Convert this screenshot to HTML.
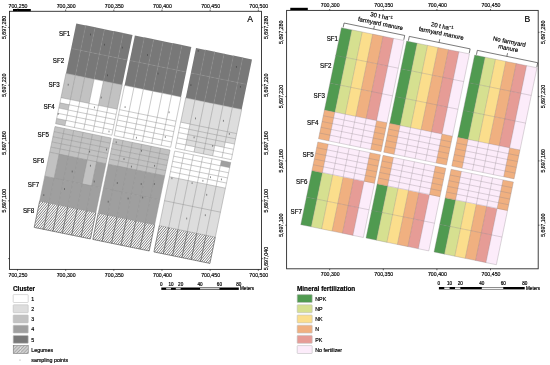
<!DOCTYPE html>
<html lang="en"><head><meta charset="utf-8"><title>Cluster and mineral fertilization maps</title>
<style>
html,body{margin:0;padding:0;background:#fff;}
body{width:550px;height:365px;overflow:hidden;}
svg{display:block;filter:blur(0.35px);font-family:"Liberation Sans",sans-serif;fill:#000;}
text{stroke:#000;stroke-width:0.18px;}
.ax{font-size:6.1px;}
.sf{font-size:7.2px;}
.lg{font-size:5.3px;}
.sb{font-size:4.6px;}
.hd{font-size:6.4px;font-weight:bold;}
.br{font-size:6px;}
</style></head><body>
<svg width="550" height="365" viewBox="0 0 550 365">
<defs>
<pattern id="hatchL" width="10" height="10" patternUnits="userSpaceOnUse">
<rect width="10" height="10" fill="#fff"/><path d="M1.43 0L0 1.43M2.86 0L0 2.86M4.29 0L0 4.29M5.71 0L0 5.71M7.14 0L0 7.14M8.57 0L0 8.57M10.00 0L0 10.00M11.43 0L0 11.43M12.86 0L0 12.86M14.29 0L0 14.29M15.71 0L0 15.71M17.14 0L0 17.14M18.57 0L0 18.57M20.00 0L0 20.00" stroke="#4a4a4a" stroke-width="0.5" fill="none"/>
</pattern>
</defs>
<rect width="550" height="365" fill="#fff"/>
<!-- Panel A -->
<g transform="matrix(0.9797 0.2007 -0.2021 0.9794 76.3 23.4)">
<rect x="0" y="0" width="9.87" height="25.8" fill="#787878"/>
<rect x="9.57" y="0" width="9.87" height="25.8" fill="#787878"/>
<rect x="19.13" y="0" width="9.87" height="25.8" fill="#787878"/>
<rect x="28.7" y="0" width="9.87" height="25.8" fill="#787878"/>
<rect x="38.27" y="0" width="9.87" height="25.8" fill="#787878"/>
<rect x="47.83" y="0" width="9.57" height="25.8" fill="#787878"/>
<rect x="0" y="25.5" width="9.87" height="25.8" fill="#787878"/>
<rect x="9.57" y="25.5" width="9.87" height="25.8" fill="#787878"/>
<rect x="19.13" y="25.5" width="9.87" height="25.8" fill="#787878"/>
<rect x="28.7" y="25.5" width="9.87" height="25.8" fill="#787878"/>
<rect x="38.27" y="25.5" width="9.87" height="25.8" fill="#787878"/>
<rect x="47.83" y="25.5" width="9.57" height="25.8" fill="#787878"/>
<rect x="59.8" y="0" width="9.9" height="25.8" fill="#787878"/>
<rect x="69.4" y="0" width="9.9" height="25.8" fill="#787878"/>
<rect x="79" y="0" width="9.9" height="25.8" fill="#787878"/>
<rect x="88.6" y="0" width="9.9" height="25.8" fill="#787878"/>
<rect x="98.2" y="0" width="9.9" height="25.8" fill="#787878"/>
<rect x="107.8" y="0" width="9.6" height="25.8" fill="#787878"/>
<rect x="59.8" y="25.5" width="9.9" height="25.8" fill="#787878"/>
<rect x="69.4" y="25.5" width="9.9" height="25.8" fill="#787878"/>
<rect x="79" y="25.5" width="9.9" height="25.8" fill="#787878"/>
<rect x="88.6" y="25.5" width="9.9" height="25.8" fill="#787878"/>
<rect x="98.2" y="25.5" width="9.9" height="25.8" fill="#787878"/>
<rect x="107.8" y="25.5" width="9.6" height="25.8" fill="#787878"/>
<rect x="122.2" y="0" width="9.83" height="25.8" fill="#787878"/>
<rect x="131.72" y="0" width="9.83" height="25.8" fill="#787878"/>
<rect x="141.25" y="0" width="9.83" height="25.8" fill="#787878"/>
<rect x="150.78" y="0" width="9.83" height="25.8" fill="#787878"/>
<rect x="160.3" y="0" width="9.82" height="25.8" fill="#787878"/>
<rect x="169.82" y="0" width="9.53" height="25.8" fill="#787878"/>
<rect x="122.2" y="25.5" width="9.83" height="25.8" fill="#787878"/>
<rect x="131.72" y="25.5" width="9.83" height="25.8" fill="#787878"/>
<rect x="141.25" y="25.5" width="9.83" height="25.8" fill="#787878"/>
<rect x="150.78" y="25.5" width="9.83" height="25.8" fill="#787878"/>
<rect x="160.3" y="25.5" width="9.82" height="25.8" fill="#787878"/>
<rect x="169.82" y="25.5" width="9.53" height="25.8" fill="#787878"/>
<rect x="0" y="51" width="9.87" height="25.1" fill="#c2c2c2"/>
<rect x="9.57" y="51" width="9.87" height="25.1" fill="#c2c2c2"/>
<rect x="19.13" y="51" width="9.87" height="25.1" fill="#c2c2c2"/>
<rect x="28.7" y="51" width="9.87" height="25.1" fill="#ffffff"/>
<rect x="38.27" y="51" width="9.87" height="25.1" fill="#c2c2c2"/>
<rect x="47.83" y="51" width="9.57" height="25.1" fill="#c2c2c2"/>
<rect x="59.8" y="51" width="9.9" height="25.1" fill="#ffffff"/>
<rect x="69.4" y="51" width="9.9" height="25.1" fill="#ffffff"/>
<rect x="79" y="51" width="9.9" height="25.1" fill="#ffffff"/>
<rect x="88.6" y="51" width="9.9" height="25.1" fill="#ffffff"/>
<rect x="98.2" y="51" width="9.9" height="25.1" fill="#ffffff"/>
<rect x="107.8" y="51" width="9.6" height="25.1" fill="#ffffff"/>
<rect x="122.2" y="51" width="9.83" height="25.1" fill="#dddddd"/>
<rect x="131.72" y="51" width="9.83" height="25.1" fill="#dddddd"/>
<rect x="141.25" y="51" width="9.83" height="25.1" fill="#dddddd"/>
<rect x="150.78" y="51" width="9.83" height="25.1" fill="#dddddd"/>
<rect x="160.3" y="51" width="9.82" height="25.1" fill="#dddddd"/>
<rect x="169.82" y="51" width="9.53" height="25.1" fill="#dddddd"/>
<rect x="0" y="75.8" width="9.87" height="5.62" fill="#ffffff"/>
<rect x="9.57" y="75.8" width="9.87" height="5.62" fill="#ffffff"/>
<rect x="19.13" y="75.8" width="9.87" height="5.62" fill="#ffffff"/>
<rect x="28.7" y="75.8" width="9.87" height="5.62" fill="#ffffff"/>
<rect x="38.27" y="75.8" width="9.87" height="5.62" fill="#ffffff"/>
<rect x="47.83" y="75.8" width="9.57" height="5.62" fill="#ffffff"/>
<rect x="0" y="81.12" width="9.87" height="5.62" fill="#c2c2c2"/>
<rect x="9.57" y="81.12" width="9.87" height="5.62" fill="#ffffff"/>
<rect x="19.13" y="81.12" width="9.87" height="5.62" fill="#ffffff"/>
<rect x="28.7" y="81.12" width="9.87" height="5.62" fill="#ffffff"/>
<rect x="38.27" y="81.12" width="9.87" height="5.62" fill="#ffffff"/>
<rect x="47.83" y="81.12" width="9.57" height="5.62" fill="#ffffff"/>
<rect x="0" y="86.44" width="9.87" height="5.62" fill="#ffffff"/>
<rect x="9.57" y="86.44" width="9.87" height="5.62" fill="#ffffff"/>
<rect x="19.13" y="86.44" width="9.87" height="5.62" fill="#ffffff"/>
<rect x="28.7" y="86.44" width="9.87" height="5.62" fill="#ffffff"/>
<rect x="38.27" y="86.44" width="9.87" height="5.62" fill="#ffffff"/>
<rect x="47.83" y="86.44" width="9.57" height="5.62" fill="#ffffff"/>
<rect x="0" y="91.76" width="9.87" height="5.62" fill="#ffffff"/>
<rect x="9.57" y="91.76" width="9.87" height="5.62" fill="#ffffff"/>
<rect x="19.13" y="91.76" width="9.87" height="5.62" fill="#ffffff"/>
<rect x="28.7" y="91.76" width="9.87" height="5.62" fill="#ffffff"/>
<rect x="38.27" y="91.76" width="9.87" height="5.62" fill="#ffffff"/>
<rect x="47.83" y="91.76" width="9.57" height="5.62" fill="#ffffff"/>
<rect x="0" y="97.08" width="9.87" height="5.32" fill="#c2c2c2"/>
<rect x="9.57" y="97.08" width="9.87" height="5.32" fill="#ffffff"/>
<rect x="19.13" y="97.08" width="9.87" height="5.32" fill="#ffffff"/>
<rect x="28.7" y="97.08" width="9.87" height="5.32" fill="#ffffff"/>
<rect x="38.27" y="97.08" width="9.87" height="5.32" fill="#ffffff"/>
<rect x="47.83" y="97.08" width="9.57" height="5.32" fill="#ffffff"/>
<rect x="59.8" y="75.8" width="9.9" height="5.62" fill="#ffffff"/>
<rect x="69.4" y="75.8" width="9.9" height="5.62" fill="#ffffff"/>
<rect x="79" y="75.8" width="9.9" height="5.62" fill="#ffffff"/>
<rect x="88.6" y="75.8" width="9.9" height="5.62" fill="#ffffff"/>
<rect x="98.2" y="75.8" width="9.9" height="5.62" fill="#ffffff"/>
<rect x="107.8" y="75.8" width="9.6" height="5.62" fill="#ffffff"/>
<rect x="59.8" y="81.12" width="9.9" height="5.62" fill="#ffffff"/>
<rect x="69.4" y="81.12" width="9.9" height="5.62" fill="#ffffff"/>
<rect x="79" y="81.12" width="9.9" height="5.62" fill="#ffffff"/>
<rect x="88.6" y="81.12" width="9.9" height="5.62" fill="#ffffff"/>
<rect x="98.2" y="81.12" width="9.9" height="5.62" fill="#ffffff"/>
<rect x="107.8" y="81.12" width="9.6" height="5.62" fill="#ffffff"/>
<rect x="59.8" y="86.44" width="9.9" height="5.62" fill="#ffffff"/>
<rect x="69.4" y="86.44" width="9.9" height="5.62" fill="#ffffff"/>
<rect x="79" y="86.44" width="9.9" height="5.62" fill="#ffffff"/>
<rect x="88.6" y="86.44" width="9.9" height="5.62" fill="#ffffff"/>
<rect x="98.2" y="86.44" width="9.9" height="5.62" fill="#ffffff"/>
<rect x="107.8" y="86.44" width="9.6" height="5.62" fill="#ffffff"/>
<rect x="59.8" y="91.76" width="9.9" height="5.62" fill="#ffffff"/>
<rect x="69.4" y="91.76" width="9.9" height="5.62" fill="#ffffff"/>
<rect x="79" y="91.76" width="9.9" height="5.62" fill="#ffffff"/>
<rect x="88.6" y="91.76" width="9.9" height="5.62" fill="#ffffff"/>
<rect x="98.2" y="91.76" width="9.9" height="5.62" fill="#ffffff"/>
<rect x="107.8" y="91.76" width="9.6" height="5.62" fill="#ffffff"/>
<rect x="59.8" y="97.08" width="9.9" height="5.32" fill="#ffffff"/>
<rect x="69.4" y="97.08" width="9.9" height="5.32" fill="#ffffff"/>
<rect x="79" y="97.08" width="9.9" height="5.32" fill="#ffffff"/>
<rect x="88.6" y="97.08" width="9.9" height="5.32" fill="#ffffff"/>
<rect x="98.2" y="97.08" width="9.9" height="5.32" fill="#ffffff"/>
<rect x="107.8" y="97.08" width="9.6" height="5.32" fill="#ffffff"/>
<rect x="122.2" y="75.8" width="9.83" height="5.62" fill="#ffffff"/>
<rect x="131.72" y="75.8" width="9.83" height="5.62" fill="#dddddd"/>
<rect x="141.25" y="75.8" width="9.83" height="5.62" fill="#dddddd"/>
<rect x="150.78" y="75.8" width="9.83" height="5.62" fill="#dddddd"/>
<rect x="160.3" y="75.8" width="9.82" height="5.62" fill="#dddddd"/>
<rect x="169.82" y="75.8" width="9.53" height="5.62" fill="#dddddd"/>
<rect x="122.2" y="81.12" width="9.83" height="5.62" fill="#ffffff"/>
<rect x="131.72" y="81.12" width="9.83" height="5.62" fill="#dddddd"/>
<rect x="141.25" y="81.12" width="9.83" height="5.62" fill="#dddddd"/>
<rect x="150.78" y="81.12" width="9.83" height="5.62" fill="#dddddd"/>
<rect x="160.3" y="81.12" width="9.82" height="5.62" fill="#dddddd"/>
<rect x="169.82" y="81.12" width="9.53" height="5.62" fill="#dddddd"/>
<rect x="122.2" y="86.44" width="9.83" height="5.62" fill="#ffffff"/>
<rect x="131.72" y="86.44" width="9.83" height="5.62" fill="#dddddd"/>
<rect x="141.25" y="86.44" width="9.83" height="5.62" fill="#dddddd"/>
<rect x="150.78" y="86.44" width="9.83" height="5.62" fill="#dddddd"/>
<rect x="160.3" y="86.44" width="9.82" height="5.62" fill="#dddddd"/>
<rect x="169.82" y="86.44" width="9.53" height="5.62" fill="#ffffff"/>
<rect x="122.2" y="91.76" width="9.83" height="5.62" fill="#ffffff"/>
<rect x="131.72" y="91.76" width="9.83" height="5.62" fill="#dddddd"/>
<rect x="141.25" y="91.76" width="9.83" height="5.62" fill="#dddddd"/>
<rect x="150.78" y="91.76" width="9.83" height="5.62" fill="#dddddd"/>
<rect x="160.3" y="91.76" width="9.82" height="5.62" fill="#ffffff"/>
<rect x="169.82" y="91.76" width="9.53" height="5.62" fill="#ffffff"/>
<rect x="122.2" y="97.08" width="9.83" height="5.32" fill="#ffffff"/>
<rect x="131.72" y="97.08" width="9.83" height="5.32" fill="#ffffff"/>
<rect x="141.25" y="97.08" width="9.83" height="5.32" fill="#dddddd"/>
<rect x="150.78" y="97.08" width="9.83" height="5.32" fill="#dddddd"/>
<rect x="160.3" y="97.08" width="9.82" height="5.32" fill="#ffffff"/>
<rect x="169.82" y="97.08" width="9.53" height="5.32" fill="#ffffff"/>
<rect x="0" y="105.3" width="9.87" height="5.54" fill="#c2c2c2"/>
<rect x="9.57" y="105.3" width="9.87" height="5.54" fill="#c2c2c2"/>
<rect x="19.13" y="105.3" width="9.87" height="5.54" fill="#c2c2c2"/>
<rect x="28.7" y="105.3" width="9.87" height="5.54" fill="#c2c2c2"/>
<rect x="38.27" y="105.3" width="9.87" height="5.54" fill="#c2c2c2"/>
<rect x="47.83" y="105.3" width="9.57" height="5.54" fill="#c2c2c2"/>
<rect x="0" y="110.54" width="9.87" height="5.54" fill="#c2c2c2"/>
<rect x="9.57" y="110.54" width="9.87" height="5.54" fill="#c2c2c2"/>
<rect x="19.13" y="110.54" width="9.87" height="5.54" fill="#c2c2c2"/>
<rect x="28.7" y="110.54" width="9.87" height="5.54" fill="#c2c2c2"/>
<rect x="38.27" y="110.54" width="9.87" height="5.54" fill="#c2c2c2"/>
<rect x="47.83" y="110.54" width="9.57" height="5.54" fill="#c2c2c2"/>
<rect x="0" y="115.78" width="9.87" height="5.54" fill="#c2c2c2"/>
<rect x="9.57" y="115.78" width="9.87" height="5.54" fill="#c2c2c2"/>
<rect x="19.13" y="115.78" width="9.87" height="5.54" fill="#c2c2c2"/>
<rect x="28.7" y="115.78" width="9.87" height="5.54" fill="#c2c2c2"/>
<rect x="38.27" y="115.78" width="9.87" height="5.54" fill="#c2c2c2"/>
<rect x="47.83" y="115.78" width="9.57" height="5.54" fill="#c2c2c2"/>
<rect x="0" y="121.02" width="9.87" height="5.54" fill="#c2c2c2"/>
<rect x="9.57" y="121.02" width="9.87" height="5.54" fill="#c2c2c2"/>
<rect x="19.13" y="121.02" width="9.87" height="5.54" fill="#c2c2c2"/>
<rect x="28.7" y="121.02" width="9.87" height="5.54" fill="#c2c2c2"/>
<rect x="38.27" y="121.02" width="9.87" height="5.54" fill="#c2c2c2"/>
<rect x="47.83" y="121.02" width="9.57" height="5.54" fill="#c2c2c2"/>
<rect x="0" y="126.26" width="9.87" height="5.54" fill="#c2c2c2"/>
<rect x="9.57" y="126.26" width="9.87" height="5.54" fill="#c2c2c2"/>
<rect x="19.13" y="126.26" width="9.87" height="5.54" fill="#c2c2c2"/>
<rect x="28.7" y="126.26" width="9.87" height="5.54" fill="#c2c2c2"/>
<rect x="38.27" y="126.26" width="9.87" height="5.54" fill="#c2c2c2"/>
<rect x="47.83" y="126.26" width="9.57" height="5.54" fill="#c2c2c2"/>
<rect x="59.8" y="105.3" width="9.9" height="5.54" fill="#c2c2c2"/>
<rect x="69.4" y="105.3" width="9.9" height="5.54" fill="#c2c2c2"/>
<rect x="79" y="105.3" width="9.9" height="5.54" fill="#c2c2c2"/>
<rect x="88.6" y="105.3" width="9.9" height="5.54" fill="#c2c2c2"/>
<rect x="98.2" y="105.3" width="9.9" height="5.54" fill="#c2c2c2"/>
<rect x="107.8" y="105.3" width="9.6" height="5.54" fill="#c2c2c2"/>
<rect x="59.8" y="110.54" width="9.9" height="5.54" fill="#c2c2c2"/>
<rect x="69.4" y="110.54" width="9.9" height="5.54" fill="#c2c2c2"/>
<rect x="79" y="110.54" width="9.9" height="5.54" fill="#c2c2c2"/>
<rect x="88.6" y="110.54" width="9.9" height="5.54" fill="#c2c2c2"/>
<rect x="98.2" y="110.54" width="9.9" height="5.54" fill="#c2c2c2"/>
<rect x="107.8" y="110.54" width="9.6" height="5.54" fill="#c2c2c2"/>
<rect x="59.8" y="115.78" width="9.9" height="5.54" fill="#c2c2c2"/>
<rect x="69.4" y="115.78" width="9.9" height="5.54" fill="#c2c2c2"/>
<rect x="79" y="115.78" width="9.9" height="5.54" fill="#c2c2c2"/>
<rect x="88.6" y="115.78" width="9.9" height="5.54" fill="#c2c2c2"/>
<rect x="98.2" y="115.78" width="9.9" height="5.54" fill="#c2c2c2"/>
<rect x="107.8" y="115.78" width="9.6" height="5.54" fill="#c2c2c2"/>
<rect x="59.8" y="121.02" width="9.9" height="5.54" fill="#c2c2c2"/>
<rect x="69.4" y="121.02" width="9.9" height="5.54" fill="#c2c2c2"/>
<rect x="79" y="121.02" width="9.9" height="5.54" fill="#c2c2c2"/>
<rect x="88.6" y="121.02" width="9.9" height="5.54" fill="#c2c2c2"/>
<rect x="98.2" y="121.02" width="9.9" height="5.54" fill="#c2c2c2"/>
<rect x="107.8" y="121.02" width="9.6" height="5.54" fill="#c2c2c2"/>
<rect x="59.8" y="126.26" width="9.9" height="5.54" fill="#c2c2c2"/>
<rect x="69.4" y="126.26" width="9.9" height="5.54" fill="#c2c2c2"/>
<rect x="79" y="126.26" width="9.9" height="5.54" fill="#c2c2c2"/>
<rect x="88.6" y="126.26" width="9.9" height="5.54" fill="#c2c2c2"/>
<rect x="98.2" y="126.26" width="9.9" height="5.54" fill="#c2c2c2"/>
<rect x="107.8" y="126.26" width="9.6" height="5.54" fill="#c2c2c2"/>
<rect x="122.2" y="105.3" width="9.83" height="5.54" fill="#ffffff"/>
<rect x="131.72" y="105.3" width="9.83" height="5.54" fill="#ffffff"/>
<rect x="141.25" y="105.3" width="9.83" height="5.54" fill="#ffffff"/>
<rect x="150.78" y="105.3" width="9.83" height="5.54" fill="#ffffff"/>
<rect x="160.3" y="105.3" width="9.82" height="5.54" fill="#ffffff"/>
<rect x="169.82" y="105.3" width="9.53" height="5.54" fill="#9f9f9f"/>
<rect x="122.2" y="110.54" width="9.83" height="5.54" fill="#ffffff"/>
<rect x="131.72" y="110.54" width="9.83" height="5.54" fill="#ffffff"/>
<rect x="141.25" y="110.54" width="9.83" height="5.54" fill="#ffffff"/>
<rect x="150.78" y="110.54" width="9.83" height="5.54" fill="#ffffff"/>
<rect x="160.3" y="110.54" width="9.82" height="5.54" fill="#ffffff"/>
<rect x="169.82" y="110.54" width="9.53" height="5.54" fill="#ffffff"/>
<rect x="122.2" y="115.78" width="9.83" height="5.54" fill="#ffffff"/>
<rect x="131.72" y="115.78" width="9.83" height="5.54" fill="#ffffff"/>
<rect x="141.25" y="115.78" width="9.83" height="5.54" fill="#ffffff"/>
<rect x="150.78" y="115.78" width="9.83" height="5.54" fill="#ffffff"/>
<rect x="160.3" y="115.78" width="9.82" height="5.54" fill="#ffffff"/>
<rect x="169.82" y="115.78" width="9.53" height="5.54" fill="#ffffff"/>
<rect x="122.2" y="121.02" width="9.83" height="5.54" fill="#ffffff"/>
<rect x="131.72" y="121.02" width="9.83" height="5.54" fill="#ffffff"/>
<rect x="141.25" y="121.02" width="9.83" height="5.54" fill="#ffffff"/>
<rect x="150.78" y="121.02" width="9.83" height="5.54" fill="#ffffff"/>
<rect x="160.3" y="121.02" width="9.82" height="5.54" fill="#ffffff"/>
<rect x="169.82" y="121.02" width="9.53" height="5.54" fill="#ffffff"/>
<rect x="122.2" y="126.26" width="9.83" height="5.54" fill="#ffffff"/>
<rect x="131.72" y="126.26" width="9.83" height="5.54" fill="#ffffff"/>
<rect x="141.25" y="126.26" width="9.83" height="5.54" fill="#ffffff"/>
<rect x="150.78" y="126.26" width="9.83" height="5.54" fill="#ffffff"/>
<rect x="160.3" y="126.26" width="9.82" height="5.54" fill="#ffffff"/>
<rect x="169.82" y="126.26" width="9.53" height="5.54" fill="#ffffff"/>
<rect x="0" y="131.5" width="9.87" height="24.8" fill="#c2c2c2"/>
<rect x="9.57" y="131.5" width="9.87" height="24.8" fill="#9f9f9f"/>
<rect x="19.13" y="131.5" width="9.87" height="24.8" fill="#9f9f9f"/>
<rect x="28.7" y="131.5" width="9.87" height="24.8" fill="#9f9f9f"/>
<rect x="38.27" y="131.5" width="9.87" height="24.8" fill="#c2c2c2"/>
<rect x="47.83" y="131.5" width="9.57" height="24.8" fill="#9f9f9f"/>
<rect x="59.8" y="131.5" width="9.9" height="24.8" fill="#9f9f9f"/>
<rect x="69.4" y="131.5" width="9.9" height="24.8" fill="#9f9f9f"/>
<rect x="79" y="131.5" width="9.9" height="24.8" fill="#9f9f9f"/>
<rect x="88.6" y="131.5" width="9.9" height="24.8" fill="#9f9f9f"/>
<rect x="98.2" y="131.5" width="9.9" height="24.8" fill="#9f9f9f"/>
<rect x="107.8" y="131.5" width="9.6" height="24.8" fill="#9f9f9f"/>
<rect x="122.2" y="131.5" width="9.83" height="24.8" fill="#dddddd"/>
<rect x="131.72" y="131.5" width="9.83" height="24.8" fill="#dddddd"/>
<rect x="141.25" y="131.5" width="9.83" height="24.8" fill="#dddddd"/>
<rect x="150.78" y="131.5" width="9.83" height="24.8" fill="#dddddd"/>
<rect x="160.3" y="131.5" width="9.82" height="24.8" fill="#dddddd"/>
<rect x="169.82" y="131.5" width="9.53" height="24.8" fill="#dddddd"/>
<rect x="0" y="156" width="9.87" height="25.8" fill="#9f9f9f"/>
<rect x="9.57" y="156" width="9.87" height="25.8" fill="#9f9f9f"/>
<rect x="19.13" y="156" width="9.87" height="25.8" fill="#9f9f9f"/>
<rect x="28.7" y="156" width="9.87" height="25.8" fill="#9f9f9f"/>
<rect x="38.27" y="156" width="9.87" height="25.8" fill="#9f9f9f"/>
<rect x="47.83" y="156" width="9.57" height="25.8" fill="#9f9f9f"/>
<rect x="59.8" y="156" width="9.9" height="25.8" fill="#9f9f9f"/>
<rect x="69.4" y="156" width="9.9" height="25.8" fill="#9f9f9f"/>
<rect x="79" y="156" width="9.9" height="25.8" fill="#9f9f9f"/>
<rect x="88.6" y="156" width="9.9" height="25.8" fill="#9f9f9f"/>
<rect x="98.2" y="156" width="9.9" height="25.8" fill="#9f9f9f"/>
<rect x="107.8" y="156" width="9.6" height="25.8" fill="#9f9f9f"/>
<rect x="122.2" y="156" width="9.83" height="25.8" fill="#dddddd"/>
<rect x="131.72" y="156" width="9.83" height="25.8" fill="#dddddd"/>
<rect x="141.25" y="156" width="9.83" height="25.8" fill="#dddddd"/>
<rect x="150.78" y="156" width="9.83" height="25.8" fill="#dddddd"/>
<rect x="160.3" y="156" width="9.82" height="25.8" fill="#dddddd"/>
<rect x="169.82" y="156" width="9.53" height="25.8" fill="#dddddd"/>
<rect x="0" y="181.5" width="57.4" height="26.8" fill="#fff"/>
<rect x="59.8" y="181.5" width="57.6" height="26.8" fill="#fff"/>
<rect x="122.2" y="181.5" width="57.15" height="26.8" fill="#fff"/>
<path d="M0 51L0 102.4M0 105.3L0 181.5M9.57 51L9.57 102.4M9.57 105.3L9.57 181.5M19.13 51L19.13 102.4M19.13 105.3L19.13 181.5M28.7 51L28.7 102.4M28.7 105.3L28.7 181.5M38.27 51L38.27 102.4M38.27 105.3L38.27 181.5M47.83 51L47.83 102.4M47.83 105.3L47.83 181.5M57.4 51L57.4 102.4M57.4 105.3L57.4 181.5M0 51L57.4 51M0 75.8L57.4 75.8M0 81.12L57.4 81.12M0 86.44L57.4 86.44M0 91.76L57.4 91.76M0 97.08L57.4 97.08M0 105.3L57.4 105.3M0 110.54L57.4 110.54M0 115.78L57.4 115.78M0 121.02L57.4 121.02M0 126.26L57.4 126.26M0 131.5L57.4 131.5M0 156L57.4 156M0 102.4L57.4 102.4M0 181.5L57.4 181.5M59.8 51L59.8 102.4M59.8 105.3L59.8 181.5M69.4 51L69.4 102.4M69.4 105.3L69.4 181.5M79 51L79 102.4M79 105.3L79 181.5M88.6 51L88.6 102.4M88.6 105.3L88.6 181.5M98.2 51L98.2 102.4M98.2 105.3L98.2 181.5M107.8 51L107.8 102.4M107.8 105.3L107.8 181.5M117.4 51L117.4 102.4M117.4 105.3L117.4 181.5M59.8 51L117.4 51M59.8 75.8L117.4 75.8M59.8 81.12L117.4 81.12M59.8 86.44L117.4 86.44M59.8 91.76L117.4 91.76M59.8 97.08L117.4 97.08M59.8 105.3L117.4 105.3M59.8 110.54L117.4 110.54M59.8 115.78L117.4 115.78M59.8 121.02L117.4 121.02M59.8 126.26L117.4 126.26M59.8 131.5L117.4 131.5M59.8 156L117.4 156M59.8 102.4L117.4 102.4M59.8 181.5L117.4 181.5M122.2 51L122.2 102.4M122.2 105.3L122.2 181.5M131.72 51L131.72 102.4M131.72 105.3L131.72 181.5M141.25 51L141.25 102.4M141.25 105.3L141.25 181.5M150.78 51L150.78 102.4M150.78 105.3L150.78 181.5M160.3 51L160.3 102.4M160.3 105.3L160.3 181.5M169.82 51L169.82 102.4M169.82 105.3L169.82 181.5M179.35 51L179.35 102.4M179.35 105.3L179.35 181.5M122.2 51L179.35 51M122.2 75.8L179.35 75.8M122.2 81.12L179.35 81.12M122.2 86.44L179.35 86.44M122.2 91.76L179.35 91.76M122.2 97.08L179.35 97.08M122.2 105.3L179.35 105.3M122.2 110.54L179.35 110.54M122.2 115.78L179.35 115.78M122.2 121.02L179.35 121.02M122.2 126.26L179.35 126.26M122.2 131.5L179.35 131.5M122.2 156L179.35 156M122.2 102.4L179.35 102.4M122.2 181.5L179.35 181.5" fill="none" stroke="#929292" stroke-width="0.45"/>
<path d="M9.57 0L9.57 51M19.13 0L19.13 51M28.7 0L28.7 51M38.27 0L38.27 51M47.83 0L47.83 51M0 25.5L57.4 25.5M69.4 0L69.4 51M79 0L79 51M88.6 0L88.6 51M98.2 0L98.2 51M107.8 0L107.8 51M59.8 25.5L117.4 25.5M131.72 0L131.72 51M141.25 0L141.25 51M150.78 0L150.78 51M160.3 0L160.3 51M169.82 0L169.82 51M122.2 25.5L179.35 25.5" fill="none" stroke="#a0a0a0" stroke-width="0.28"/>
<path d="M0 181.5L0 208.3M9.57 181.5L9.57 208.3M19.13 181.5L19.13 208.3M28.7 181.5L28.7 208.3M38.27 181.5L38.27 208.3M47.83 181.5L47.83 208.3M57.4 181.5L57.4 208.3M0 208.3L57.4 208.3M59.8 181.5L59.8 208.3M69.4 181.5L69.4 208.3M79 181.5L79 208.3M88.6 181.5L88.6 208.3M98.2 181.5L98.2 208.3M107.8 181.5L107.8 208.3M117.4 181.5L117.4 208.3M59.8 208.3L117.4 208.3M122.2 181.5L122.2 208.3M131.72 181.5L131.72 208.3M141.25 181.5L141.25 208.3M150.78 181.5L150.78 208.3M160.3 181.5L160.3 208.3M169.82 181.5L169.82 208.3M179.35 181.5L179.35 208.3M122.2 208.3L179.35 208.3" fill="none" stroke="#555" stroke-width="0.6"/>
</g>
<g fill="#3a3a3a" fill-opacity="0.62"><rect x="90.05" y="33.6" width="0.9" height="1.8"/><rect x="103.95" y="43.8" width="0.9" height="1.8"/><rect x="121.85" y="46.7" width="0.9" height="1.8"/><rect x="107.05" y="74.4" width="0.9" height="1.8"/><rect x="67.75" y="83.8" width="0.9" height="1.8"/><rect x="100.75" y="96.6" width="0.9" height="1.8"/><rect x="93.95" y="106.5" width="0.9" height="1.8"/><rect x="124.65" y="106.2" width="0.9" height="1.8"/><rect x="57.75" y="113.1" width="0.9" height="1.8"/><rect x="108.55" y="130.6" width="0.9" height="1.8"/><rect x="115.75" y="141.4" width="0.9" height="1.8"/><rect x="106.05" y="148.7" width="0.9" height="1.8"/><rect x="89.15" y="150.7" width="0.9" height="1.8"/><rect x="89.95" y="164.8" width="0.9" height="1.8"/><rect x="71.75" y="170.6" width="0.9" height="1.8"/><rect x="93.75" y="180.6" width="0.9" height="1.8"/><rect x="64.05" y="188.1" width="0.9" height="1.8"/><rect x="43.35" y="194.2" width="0.9" height="1.8"/><rect x="147.05" y="54.1" width="0.9" height="1.8"/><rect x="157.55" y="72.7" width="0.9" height="1.8"/><rect x="168.65" y="111.4" width="0.9" height="1.8"/><rect x="135.95" y="136.8" width="0.9" height="1.8"/><rect x="164.85" y="136.1" width="0.9" height="1.8"/><rect x="141.05" y="149.9" width="0.9" height="1.8"/><rect x="123.55" y="158.1" width="0.9" height="1.8"/><rect x="130.95" y="165.7" width="0.9" height="1.8"/><rect x="154.15" y="164.9" width="0.9" height="1.8"/><rect x="116.85" y="182.1" width="0.9" height="1.8"/><rect x="140.75" y="183.1" width="0.9" height="1.8"/><rect x="153.85" y="183.1" width="0.9" height="1.8"/><rect x="127.65" y="197.6" width="0.9" height="1.8"/><rect x="142.25" y="196.6" width="0.9" height="1.8"/><rect x="107.75" y="200.8" width="0.9" height="1.8"/><rect x="197.75" y="50" width="0.9" height="1.8"/><rect x="235.95" y="66" width="0.9" height="1.8"/><rect x="190.45" y="84.2" width="0.9" height="1.8"/><rect x="239.95" y="85.9" width="0.9" height="1.8"/><rect x="195.05" y="117.5" width="0.9" height="1.8"/><rect x="222.95" y="119.9" width="0.9" height="1.8"/><rect x="228.85" y="133" width="0.9" height="1.8"/><rect x="193.65" y="136.5" width="0.9" height="1.8"/><rect x="212.25" y="145" width="0.9" height="1.8"/><rect x="210.05" y="176.3" width="0.9" height="1.8"/><rect x="220.95" y="178.5" width="0.9" height="1.8"/><rect x="202.45" y="179.9" width="0.9" height="1.8"/><rect x="171.45" y="177.4" width="0.9" height="1.8"/><rect x="191.65" y="182.2" width="0.9" height="1.8"/><rect x="206.25" y="193.9" width="0.9" height="1.8"/><rect x="204.85" y="214.3" width="0.9" height="1.8"/><rect x="186.25" y="217.6" width="0.9" height="1.8"/></g>
<clipPath id="sf8"><polygon points="39.62,201.16 95.85,212.68 90.44,238.93 34.2,227.41"/><polygon points="98.2,213.16 154.64,224.72 149.22,250.97 92.79,239.41"/><polygon points="159.34,225.69 215.33,237.16 209.91,263.4 153.92,251.93"/></clipPath>
<path clip-path="url(#sf8)" d="M-30 266L29.58 195M-27.6 266L31.98 195M-25.2 266L34.38 195M-22.8 266L36.78 195M-20.4 266L39.18 195M-18 266L41.58 195M-15.6 266L43.98 195M-13.2 266L46.38 195M-10.8 266L48.78 195M-8.4 266L51.18 195M-6 266L53.58 195M-3.6 266L55.98 195M-1.2 266L58.38 195M1.2 266L60.78 195M3.6 266L63.18 195M6 266L65.58 195M8.4 266L67.98 195M10.8 266L70.38 195M13.2 266L72.78 195M15.6 266L75.18 195M18 266L77.58 195M20.4 266L79.98 195M22.8 266L82.38 195M25.2 266L84.78 195M27.6 266L87.18 195M30 266L89.58 195M32.4 266L91.98 195M34.8 266L94.38 195M37.2 266L96.78 195M39.6 266L99.18 195M42 266L101.58 195M44.4 266L103.98 195M46.8 266L106.38 195M49.2 266L108.78 195M51.6 266L111.18 195M54 266L113.58 195M56.4 266L115.98 195M58.8 266L118.38 195M61.2 266L120.78 195M63.6 266L123.18 195M66 266L125.58 195M68.4 266L127.98 195M70.8 266L130.38 195M73.2 266L132.78 195M75.6 266L135.18 195M78 266L137.58 195M80.4 266L139.98 195M82.8 266L142.38 195M85.2 266L144.78 195M87.6 266L147.18 195M90 266L149.58 195M92.4 266L151.98 195M94.8 266L154.38 195M97.2 266L156.78 195M99.6 266L159.18 195M102 266L161.58 195M104.4 266L163.98 195M106.8 266L166.38 195M109.2 266L168.78 195M111.6 266L171.18 195M114 266L173.58 195M116.4 266L175.98 195M118.8 266L178.38 195M121.2 266L180.78 195M123.6 266L183.18 195M126 266L185.58 195M128.4 266L187.98 195M130.8 266L190.38 195M133.2 266L192.78 195M135.6 266L195.18 195M138 266L197.58 195M140.4 266L199.98 195M142.8 266L202.38 195M145.2 266L204.78 195M147.6 266L207.18 195M150 266L209.58 195M152.4 266L211.98 195M154.8 266L214.38 195M157.2 266L216.78 195M159.6 266L219.18 195M162 266L221.58 195M164.4 266L223.98 195M166.8 266L226.38 195M169.2 266L228.78 195M171.6 266L231.18 195M174 266L233.58 195M176.4 266L235.98 195M178.8 266L238.38 195M181.2 266L240.78 195M183.6 266L243.18 195M186 266L245.58 195M188.4 266L247.98 195M190.8 266L250.38 195M193.2 266L252.78 195M195.6 266L255.18 195M198 266L257.58 195M200.4 266L259.98 195M202.8 266L262.38 195M205.2 266L264.78 195M207.6 266L267.18 195M210 266L269.58 195M212.4 266L271.98 195M214.8 266L274.38 195M217.2 266L276.78 195M219.6 266L279.18 195" stroke="#484848" stroke-width="0.72" fill="none"/>
<rect x="9.5" y="11.3" width="252" height="258.1" fill="none" stroke="#2a2a2a" stroke-width="0.9"/>
<rect x="13" y="9" width="17.8" height="2.2" fill="#000"/>
<path d="M17.5 9.6V11M17.5 269.4V270.8M65.66 9.6V11M65.66 269.4V270.8M113.82 9.6V11M113.82 269.4V270.8M161.98 9.6V11M161.98 269.4V270.8M210.14 9.6V11M210.14 269.4V270.8M258.3 9.6V11M258.3 269.4V270.8M8.2 27.4H9.5M261.5 27.4H262.8M8.2 85.2H9.5M261.5 85.2H262.8M8.2 143H9.5M261.5 143H262.8M8.2 200.8H9.5M261.5 200.8H262.8M8.2 258.6H9.5M261.5 258.6H262.8" stroke="#222" stroke-width="0.7" fill="none"/>
<text class="ax" transform="translate(18 8.1) scale(0.86 1)" text-anchor="middle">700,250</text><text class="ax" transform="translate(18 276.8) scale(0.86 1)" text-anchor="middle">700,250</text>
<text class="ax" transform="translate(66.16 8.1) scale(0.86 1)" text-anchor="middle">700,300</text><text class="ax" transform="translate(66.16 276.8) scale(0.86 1)" text-anchor="middle">700,300</text>
<text class="ax" transform="translate(114.32 8.1) scale(0.86 1)" text-anchor="middle">700,350</text><text class="ax" transform="translate(114.32 276.8) scale(0.86 1)" text-anchor="middle">700,350</text>
<text class="ax" transform="translate(162.48 8.1) scale(0.86 1)" text-anchor="middle">700,400</text><text class="ax" transform="translate(162.48 276.8) scale(0.86 1)" text-anchor="middle">700,400</text>
<text class="ax" transform="translate(210.64 8.1) scale(0.86 1)" text-anchor="middle">700,450</text><text class="ax" transform="translate(210.64 276.8) scale(0.86 1)" text-anchor="middle">700,450</text>
<text class="ax" transform="translate(258.8 8.1) scale(0.86 1)" text-anchor="middle">700,500</text><text class="ax" transform="translate(258.8 276.8) scale(0.86 1)" text-anchor="middle">700,500</text>
<text class="ax" transform="translate(6.2 27.4) rotate(-90) scale(0.86 1)" text-anchor="middle">5,697,280</text><text class="ax" transform="translate(268.3 27.4) rotate(-90) scale(0.86 1)" text-anchor="middle">5,697,280</text>
<text class="ax" transform="translate(6.2 85.2) rotate(-90) scale(0.86 1)" text-anchor="middle">5,697,220</text><text class="ax" transform="translate(268.3 85.2) rotate(-90) scale(0.86 1)" text-anchor="middle">5,697,220</text>
<text class="ax" transform="translate(6.2 143) rotate(-90) scale(0.86 1)" text-anchor="middle">5,697,160</text><text class="ax" transform="translate(268.3 143) rotate(-90) scale(0.86 1)" text-anchor="middle">5,697,160</text>
<text class="ax" transform="translate(6.2 200.8) rotate(-90) scale(0.86 1)" text-anchor="middle">5,697,100</text><text class="ax" transform="translate(268.3 200.8) rotate(-90) scale(0.86 1)" text-anchor="middle">5,697,100</text>
<text class="ax" transform="translate(268.3 258.6) rotate(-90) scale(0.86 1)" text-anchor="middle">5,697,040</text>
<text x="247.2" y="22" font-size="8.6">A</text>
<text class="sf" transform="translate(58.9 35.9) scale(0.86 1)">SF1</text><text class="sf" transform="translate(52.8 62.7) scale(0.86 1)">SF2</text><text class="sf" transform="translate(48.4 87.2) scale(0.86 1)">SF3</text><text class="sf" transform="translate(43.4 109.1) scale(0.86 1)">SF4</text><text class="sf" transform="translate(37.6 137.4) scale(0.86 1)">SF5</text><text class="sf" transform="translate(32.8 163.4) scale(0.86 1)">SF6</text><text class="sf" transform="translate(27.8 186.9) scale(0.86 1)">SF7</text><text class="sf" transform="translate(22.9 213.1) scale(0.86 1)">SF8</text>
<text class="hd" x="13" y="290.9">Cluster</text>
<rect x="13.2" y="294.6" width="15" height="7.9" rx="0.6" fill="#ffffff" stroke="#c0c0c0" stroke-width="0.6"/><text class="lg" x="31.3" y="300.7">1</text>
<rect x="13.2" y="304.8" width="15" height="7.9" rx="0.6" fill="#dddddd" stroke="#c0c0c0" stroke-width="0.6"/><text class="lg" x="31.3" y="310.9">2</text>
<rect x="13.2" y="315" width="15" height="7.9" rx="0.6" fill="#c2c2c2" stroke="#c0c0c0" stroke-width="0.6"/><text class="lg" x="31.3" y="321.1">3</text>
<rect x="13.2" y="325.2" width="15" height="7.9" rx="0.6" fill="#9f9f9f" stroke="#c0c0c0" stroke-width="0.6"/><text class="lg" x="31.3" y="331.3">4</text>
<rect x="13.2" y="335.4" width="15" height="7.9" rx="0.6" fill="#787878" stroke="#c0c0c0" stroke-width="0.6"/><text class="lg" x="31.3" y="341.5">5</text>
<rect x="13.2" y="345.6" width="15" height="7.9" fill="url(#hatchL)" stroke="#666" stroke-width="0.5"/><text class="lg" x="31.3" y="351.5">Legumes</text>
<circle cx="20" cy="360" r="0.6" fill="#999"/><text class="lg" x="31.3" y="361.8">sampling points</text>
<rect x="161.3" y="287.5" width="77.5" height="2.4" fill="#000"/><rect x="166.14" y="287.95" width="4.84" height="1.5" fill="#cfcfcf"/><rect x="175.83" y="287.95" width="4.84" height="1.5" fill="#cfcfcf"/><rect x="200.05" y="287.95" width="19.37" height="1.5" fill="#cfcfcf"/><text class="sb" x="161.3" y="285.8" text-anchor="middle">0</text><text class="sb" x="170.99" y="285.8" text-anchor="middle">10</text><text class="sb" x="180.67" y="285.8" text-anchor="middle">20</text><text class="sb" x="200.05" y="285.8" text-anchor="middle">40</text><text class="sb" x="219.42" y="285.8" text-anchor="middle">60</text><text class="sb" x="238.8" y="285.8" text-anchor="middle">80</text><text class="sb" x="240" y="290.1">Meters</text>
<!-- Panel B -->
<g transform="matrix(1.0906 0.2234 -0.2239 1.0852 341.4 27.7)">
<rect x="0" y="0" width="9.87" height="25.8" fill="#509a50"/>
<rect x="9.57" y="0" width="9.87" height="25.8" fill="#d6e090"/>
<rect x="19.13" y="0" width="9.87" height="25.8" fill="#fbde8c"/>
<rect x="28.7" y="0" width="9.87" height="25.8" fill="#f0b080"/>
<rect x="38.27" y="0" width="9.87" height="25.8" fill="#e69c96"/>
<rect x="47.83" y="0" width="9.57" height="25.8" fill="#fcecfa"/>
<rect x="0" y="25.5" width="9.87" height="25.8" fill="#509a50"/>
<rect x="9.57" y="25.5" width="9.87" height="25.8" fill="#d6e090"/>
<rect x="19.13" y="25.5" width="9.87" height="25.8" fill="#fbde8c"/>
<rect x="28.7" y="25.5" width="9.87" height="25.8" fill="#f0b080"/>
<rect x="38.27" y="25.5" width="9.87" height="25.8" fill="#e69c96"/>
<rect x="47.83" y="25.5" width="9.57" height="25.8" fill="#fcecfa"/>
<rect x="0" y="51" width="9.87" height="25.1" fill="#509a50"/>
<rect x="9.57" y="51" width="9.87" height="25.1" fill="#d6e090"/>
<rect x="19.13" y="51" width="9.87" height="25.1" fill="#fbde8c"/>
<rect x="28.7" y="51" width="9.87" height="25.1" fill="#f0b080"/>
<rect x="38.27" y="51" width="9.87" height="25.1" fill="#e69c96"/>
<rect x="47.83" y="51" width="9.57" height="25.1" fill="#fcecfa"/>
<rect x="0" y="131.5" width="9.87" height="24.8" fill="#509a50"/>
<rect x="9.57" y="131.5" width="9.87" height="24.8" fill="#d6e090"/>
<rect x="19.13" y="131.5" width="9.87" height="24.8" fill="#fbde8c"/>
<rect x="28.7" y="131.5" width="9.87" height="24.8" fill="#f0b080"/>
<rect x="38.27" y="131.5" width="9.87" height="24.8" fill="#e69c96"/>
<rect x="47.83" y="131.5" width="9.57" height="24.8" fill="#fcecfa"/>
<rect x="0" y="156" width="9.87" height="25.5" fill="#509a50"/>
<rect x="9.57" y="156" width="9.87" height="25.5" fill="#d6e090"/>
<rect x="19.13" y="156" width="9.87" height="25.5" fill="#fbde8c"/>
<rect x="28.7" y="156" width="9.87" height="25.5" fill="#f0b080"/>
<rect x="38.27" y="156" width="9.87" height="25.5" fill="#e69c96"/>
<rect x="47.83" y="156" width="9.57" height="25.5" fill="#fcecfa"/>
<rect x="0" y="75.8" width="9.87" height="26.6" fill="#f0b080"/>
<rect x="9.57" y="75.8" width="9.87" height="26.6" fill="#fcecfa"/>
<rect x="19.13" y="75.8" width="9.87" height="26.6" fill="#fcecfa"/>
<rect x="28.7" y="75.8" width="9.87" height="26.6" fill="#fcecfa"/>
<rect x="38.27" y="75.8" width="9.87" height="26.6" fill="#fcecfa"/>
<rect x="47.83" y="75.8" width="9.57" height="26.6" fill="#f0b080"/>
<rect x="0" y="105.3" width="9.87" height="26.5" fill="#f0b080"/>
<rect x="9.57" y="105.3" width="9.87" height="26.5" fill="#fcecfa"/>
<rect x="19.13" y="105.3" width="9.87" height="26.5" fill="#fcecfa"/>
<rect x="28.7" y="105.3" width="9.87" height="26.5" fill="#fcecfa"/>
<rect x="38.27" y="105.3" width="9.87" height="26.5" fill="#fcecfa"/>
<rect x="47.83" y="105.3" width="9.57" height="26.5" fill="#f0b080"/>
<rect x="59.8" y="0" width="9.9" height="25.8" fill="#509a50"/>
<rect x="69.4" y="0" width="9.9" height="25.8" fill="#d6e090"/>
<rect x="79" y="0" width="9.9" height="25.8" fill="#fbde8c"/>
<rect x="88.6" y="0" width="9.9" height="25.8" fill="#f0b080"/>
<rect x="98.2" y="0" width="9.9" height="25.8" fill="#e69c96"/>
<rect x="107.8" y="0" width="9.6" height="25.8" fill="#fcecfa"/>
<rect x="59.8" y="25.5" width="9.9" height="25.8" fill="#509a50"/>
<rect x="69.4" y="25.5" width="9.9" height="25.8" fill="#d6e090"/>
<rect x="79" y="25.5" width="9.9" height="25.8" fill="#fbde8c"/>
<rect x="88.6" y="25.5" width="9.9" height="25.8" fill="#f0b080"/>
<rect x="98.2" y="25.5" width="9.9" height="25.8" fill="#e69c96"/>
<rect x="107.8" y="25.5" width="9.6" height="25.8" fill="#fcecfa"/>
<rect x="59.8" y="51" width="9.9" height="25.1" fill="#509a50"/>
<rect x="69.4" y="51" width="9.9" height="25.1" fill="#d6e090"/>
<rect x="79" y="51" width="9.9" height="25.1" fill="#fbde8c"/>
<rect x="88.6" y="51" width="9.9" height="25.1" fill="#f0b080"/>
<rect x="98.2" y="51" width="9.9" height="25.1" fill="#e69c96"/>
<rect x="107.8" y="51" width="9.6" height="25.1" fill="#fcecfa"/>
<rect x="59.8" y="131.5" width="9.9" height="24.8" fill="#509a50"/>
<rect x="69.4" y="131.5" width="9.9" height="24.8" fill="#d6e090"/>
<rect x="79" y="131.5" width="9.9" height="24.8" fill="#fbde8c"/>
<rect x="88.6" y="131.5" width="9.9" height="24.8" fill="#f0b080"/>
<rect x="98.2" y="131.5" width="9.9" height="24.8" fill="#e69c96"/>
<rect x="107.8" y="131.5" width="9.6" height="24.8" fill="#fcecfa"/>
<rect x="59.8" y="156" width="9.9" height="25.5" fill="#509a50"/>
<rect x="69.4" y="156" width="9.9" height="25.5" fill="#d6e090"/>
<rect x="79" y="156" width="9.9" height="25.5" fill="#fbde8c"/>
<rect x="88.6" y="156" width="9.9" height="25.5" fill="#f0b080"/>
<rect x="98.2" y="156" width="9.9" height="25.5" fill="#e69c96"/>
<rect x="107.8" y="156" width="9.6" height="25.5" fill="#fcecfa"/>
<rect x="59.8" y="75.8" width="9.9" height="26.6" fill="#f0b080"/>
<rect x="69.4" y="75.8" width="9.9" height="26.6" fill="#fcecfa"/>
<rect x="79" y="75.8" width="9.9" height="26.6" fill="#fcecfa"/>
<rect x="88.6" y="75.8" width="9.9" height="26.6" fill="#fcecfa"/>
<rect x="98.2" y="75.8" width="9.9" height="26.6" fill="#fcecfa"/>
<rect x="107.8" y="75.8" width="9.6" height="26.6" fill="#f0b080"/>
<rect x="59.8" y="105.3" width="9.9" height="26.5" fill="#f0b080"/>
<rect x="69.4" y="105.3" width="9.9" height="26.5" fill="#fcecfa"/>
<rect x="79" y="105.3" width="9.9" height="26.5" fill="#fcecfa"/>
<rect x="88.6" y="105.3" width="9.9" height="26.5" fill="#fcecfa"/>
<rect x="98.2" y="105.3" width="9.9" height="26.5" fill="#fcecfa"/>
<rect x="107.8" y="105.3" width="9.6" height="26.5" fill="#f0b080"/>
<rect x="122.2" y="0" width="9.83" height="25.8" fill="#509a50"/>
<rect x="131.72" y="0" width="9.83" height="25.8" fill="#d6e090"/>
<rect x="141.25" y="0" width="9.83" height="25.8" fill="#fbde8c"/>
<rect x="150.78" y="0" width="9.83" height="25.8" fill="#f0b080"/>
<rect x="160.3" y="0" width="9.82" height="25.8" fill="#e69c96"/>
<rect x="169.82" y="0" width="9.53" height="25.8" fill="#fcecfa"/>
<rect x="122.2" y="25.5" width="9.83" height="25.8" fill="#509a50"/>
<rect x="131.72" y="25.5" width="9.83" height="25.8" fill="#d6e090"/>
<rect x="141.25" y="25.5" width="9.83" height="25.8" fill="#fbde8c"/>
<rect x="150.78" y="25.5" width="9.83" height="25.8" fill="#f0b080"/>
<rect x="160.3" y="25.5" width="9.82" height="25.8" fill="#e69c96"/>
<rect x="169.82" y="25.5" width="9.53" height="25.8" fill="#fcecfa"/>
<rect x="122.2" y="51" width="9.83" height="25.1" fill="#509a50"/>
<rect x="131.72" y="51" width="9.83" height="25.1" fill="#d6e090"/>
<rect x="141.25" y="51" width="9.83" height="25.1" fill="#fbde8c"/>
<rect x="150.78" y="51" width="9.83" height="25.1" fill="#f0b080"/>
<rect x="160.3" y="51" width="9.82" height="25.1" fill="#e69c96"/>
<rect x="169.82" y="51" width="9.53" height="25.1" fill="#fcecfa"/>
<rect x="122.2" y="131.5" width="9.83" height="24.8" fill="#509a50"/>
<rect x="131.72" y="131.5" width="9.83" height="24.8" fill="#d6e090"/>
<rect x="141.25" y="131.5" width="9.83" height="24.8" fill="#fbde8c"/>
<rect x="150.78" y="131.5" width="9.83" height="24.8" fill="#f0b080"/>
<rect x="160.3" y="131.5" width="9.82" height="24.8" fill="#e69c96"/>
<rect x="169.82" y="131.5" width="9.53" height="24.8" fill="#fcecfa"/>
<rect x="122.2" y="156" width="9.83" height="25.5" fill="#509a50"/>
<rect x="131.72" y="156" width="9.83" height="25.5" fill="#d6e090"/>
<rect x="141.25" y="156" width="9.83" height="25.5" fill="#fbde8c"/>
<rect x="150.78" y="156" width="9.83" height="25.5" fill="#f0b080"/>
<rect x="160.3" y="156" width="9.82" height="25.5" fill="#e69c96"/>
<rect x="169.82" y="156" width="9.53" height="25.5" fill="#fcecfa"/>
<rect x="122.2" y="75.8" width="9.83" height="26.6" fill="#f0b080"/>
<rect x="131.72" y="75.8" width="9.83" height="26.6" fill="#fcecfa"/>
<rect x="141.25" y="75.8" width="9.83" height="26.6" fill="#fcecfa"/>
<rect x="150.78" y="75.8" width="9.83" height="26.6" fill="#fcecfa"/>
<rect x="160.3" y="75.8" width="9.82" height="26.6" fill="#fcecfa"/>
<rect x="169.82" y="75.8" width="9.53" height="26.6" fill="#f0b080"/>
<rect x="122.2" y="105.3" width="9.83" height="26.5" fill="#f0b080"/>
<rect x="131.72" y="105.3" width="9.83" height="26.5" fill="#fcecfa"/>
<rect x="141.25" y="105.3" width="9.83" height="26.5" fill="#fcecfa"/>
<rect x="150.78" y="105.3" width="9.83" height="26.5" fill="#fcecfa"/>
<rect x="160.3" y="105.3" width="9.82" height="26.5" fill="#fcecfa"/>
<rect x="169.82" y="105.3" width="9.53" height="26.5" fill="#f0b080"/>
<path d="M0 0L0 102.4M0 105.3L0 181.5M9.57 0L9.57 102.4M9.57 105.3L9.57 181.5M19.13 0L19.13 102.4M19.13 105.3L19.13 181.5M28.7 0L28.7 102.4M28.7 105.3L28.7 181.5M38.27 0L38.27 102.4M38.27 105.3L38.27 181.5M47.83 0L47.83 102.4M47.83 105.3L47.83 181.5M57.4 0L57.4 102.4M57.4 105.3L57.4 181.5M0 0L57.4 0M0 25.5L57.4 25.5M0 51L57.4 51M0 75.8L57.4 75.8M0 81.12L57.4 81.12M0 86.44L57.4 86.44M0 91.76L57.4 91.76M0 97.08L57.4 97.08M0 105.3L57.4 105.3M0 110.54L57.4 110.54M0 115.78L57.4 115.78M0 121.02L57.4 121.02M0 126.26L57.4 126.26M0 131.5L57.4 131.5M0 156L57.4 156M0 102.4L57.4 102.4M0 181.5L57.4 181.5M59.8 0L59.8 102.4M59.8 105.3L59.8 181.5M69.4 0L69.4 102.4M69.4 105.3L69.4 181.5M79 0L79 102.4M79 105.3L79 181.5M88.6 0L88.6 102.4M88.6 105.3L88.6 181.5M98.2 0L98.2 102.4M98.2 105.3L98.2 181.5M107.8 0L107.8 102.4M107.8 105.3L107.8 181.5M117.4 0L117.4 102.4M117.4 105.3L117.4 181.5M59.8 0L117.4 0M59.8 25.5L117.4 25.5M59.8 51L117.4 51M59.8 75.8L117.4 75.8M59.8 81.12L117.4 81.12M59.8 86.44L117.4 86.44M59.8 91.76L117.4 91.76M59.8 97.08L117.4 97.08M59.8 105.3L117.4 105.3M59.8 110.54L117.4 110.54M59.8 115.78L117.4 115.78M59.8 121.02L117.4 121.02M59.8 126.26L117.4 126.26M59.8 131.5L117.4 131.5M59.8 156L117.4 156M59.8 102.4L117.4 102.4M59.8 181.5L117.4 181.5M122.2 0L122.2 102.4M122.2 105.3L122.2 181.5M131.72 0L131.72 102.4M131.72 105.3L131.72 181.5M141.25 0L141.25 102.4M141.25 105.3L141.25 181.5M150.78 0L150.78 102.4M150.78 105.3L150.78 181.5M160.3 0L160.3 102.4M160.3 105.3L160.3 181.5M169.82 0L169.82 102.4M169.82 105.3L169.82 181.5M179.35 0L179.35 102.4M179.35 105.3L179.35 181.5M122.2 0L179.35 0M122.2 25.5L179.35 25.5M122.2 51L179.35 51M122.2 75.8L179.35 75.8M122.2 81.12L179.35 81.12M122.2 86.44L179.35 86.44M122.2 91.76L179.35 91.76M122.2 97.08L179.35 97.08M122.2 105.3L179.35 105.3M122.2 110.54L179.35 110.54M122.2 115.78L179.35 115.78M122.2 121.02L179.35 121.02M122.2 126.26L179.35 126.26M122.2 131.5L179.35 131.5M122.2 156L179.35 156M122.2 102.4L179.35 102.4M122.2 181.5L179.35 181.5" fill="none" stroke="#8a8088" stroke-opacity="0.65" stroke-width="0.4"/>
<path d="M1.5 -0.6L1.5 -4.6L57.1 -4.6L57.1 -0.6M28.7 -4.6L28.7 -7.6M61.3 -0.6L61.3 -4.6L117.1 -4.6L117.1 -0.6M88.6 -4.6L88.6 -7.6M123.7 -0.6L123.7 -4.6L179.05 -4.6L179.05 -0.6M150.78 -4.6L150.78 -7.6" fill="none" stroke="#222" stroke-width="0.5"/>
</g>
<rect x="286.6" y="10.4" width="251.6" height="258.4" fill="none" stroke="#2a2a2a" stroke-width="0.9"/>
<rect x="290.3" y="7.8" width="17.5" height="2.2" fill="#000"/>
<path d="M329.7 9V10.4M329.7 268.8V270.2M383.3 9V10.4M383.3 268.8V270.2M436.9 9V10.4M436.9 268.8V270.2M490.5 9V10.4M490.5 268.8V270.2M285.3 32.3H286.6M538.2 32.3H539.5M285.3 96.6H286.6M538.2 96.6H539.5M285.3 160.9H286.6M538.2 160.9H539.5M285.3 225.2H286.6M538.2 225.2H539.5" stroke="#222" stroke-width="0.7" fill="none"/>
<text class="ax" transform="translate(330.2 7.4) scale(0.86 1)" text-anchor="middle">700,300</text><text class="ax" transform="translate(330.2 276.4) scale(0.86 1)" text-anchor="middle">700,300</text>
<text class="ax" transform="translate(383.8 7.4) scale(0.86 1)" text-anchor="middle">700,350</text><text class="ax" transform="translate(383.8 276.4) scale(0.86 1)" text-anchor="middle">700,350</text>
<text class="ax" transform="translate(437.4 7.4) scale(0.86 1)" text-anchor="middle">700,400</text><text class="ax" transform="translate(437.4 276.4) scale(0.86 1)" text-anchor="middle">700,400</text>
<text class="ax" transform="translate(491 7.4) scale(0.86 1)" text-anchor="middle">700,450</text><text class="ax" transform="translate(491 276.4) scale(0.86 1)" text-anchor="middle">700,450</text>
<text class="ax" transform="translate(283 32.3) rotate(-90) scale(0.86 1)" text-anchor="middle">5,697,280</text><text class="ax" transform="translate(545.3 32.3) rotate(-90) scale(0.86 1)" text-anchor="middle">5,697,280</text>
<text class="ax" transform="translate(283 96.6) rotate(-90) scale(0.86 1)" text-anchor="middle">5,697,220</text><text class="ax" transform="translate(545.3 96.6) rotate(-90) scale(0.86 1)" text-anchor="middle">5,697,220</text>
<text class="ax" transform="translate(283 160.9) rotate(-90) scale(0.86 1)" text-anchor="middle">5,697,160</text><text class="ax" transform="translate(545.3 160.9) rotate(-90) scale(0.86 1)" text-anchor="middle">5,697,160</text>
<text class="ax" transform="translate(283 225.2) rotate(-90) scale(0.86 1)" text-anchor="middle">5,697,100</text><text class="ax" transform="translate(545.3 225.2) rotate(-90) scale(0.86 1)" text-anchor="middle">5,697,100</text>
<text x="524.6" y="21.5" font-size="8.6">B</text>
<text class="sf" transform="translate(326.7 41.4) scale(0.86 1)">SF1</text><text class="sf" transform="translate(320.1 68.4) scale(0.86 1)">SF2</text><text class="sf" transform="translate(313.6 98.3) scale(0.86 1)">SF3</text><text class="sf" transform="translate(307.1 125) scale(0.86 1)">SF4</text><text class="sf" transform="translate(302.4 157) scale(0.86 1)">SF5</text><text class="sf" transform="translate(296.1 184.2) scale(0.86 1)">SF6</text><text class="sf" transform="translate(290.6 213.7) scale(0.86 1)">SF7</text>
<text class="br" transform="translate(381.5 16.3) rotate(11.6)" text-anchor="middle" y="2.1">30 t ha<tspan font-size="3.8" dy="-2">−1</tspan></text>
<text class="br" transform="translate(380.5 23.4) rotate(11.6)" text-anchor="middle" y="2.1">farmyard manure</text>
<text class="br" transform="translate(442.2 26.3) rotate(11.6)" text-anchor="middle" y="2.1">20 t ha<tspan font-size="3.8" dy="-2">−1</tspan></text>
<text class="br" transform="translate(441.2 33.2) rotate(11.6)" text-anchor="middle" y="2.1">farmyard manure</text>
<text class="br" transform="translate(509.4 41.5) rotate(11.6)" text-anchor="middle" y="2.1">No farmyard</text>
<text class="br" transform="translate(508.3 48.1) rotate(11.6)" text-anchor="middle" y="2.1">manure</text>
<text class="hd" x="297" y="290.6">Mineral fertilization</text>
<rect x="297.2" y="294.6" width="15" height="7.9" rx="0.6" fill="#509a50" stroke="#c0c0c0" stroke-width="0.6"/><text class="lg" x="315.3" y="300.7">NPK</text>
<rect x="297.2" y="304.8" width="15" height="7.9" rx="0.6" fill="#d6e090" stroke="#c0c0c0" stroke-width="0.6"/><text class="lg" x="315.3" y="310.9">NP</text>
<rect x="297.2" y="315" width="15" height="7.9" rx="0.6" fill="#fbde8c" stroke="#c0c0c0" stroke-width="0.6"/><text class="lg" x="315.3" y="321.1">NK</text>
<rect x="297.2" y="325.2" width="15" height="7.9" rx="0.6" fill="#f0b080" stroke="#c0c0c0" stroke-width="0.6"/><text class="lg" x="315.3" y="331.3">N</text>
<rect x="297.2" y="335.4" width="15" height="7.9" rx="0.6" fill="#e69c96" stroke="#c0c0c0" stroke-width="0.6"/><text class="lg" x="315.3" y="341.5">PK</text>
<rect x="297.2" y="345.6" width="15" height="7.9" rx="0.6" fill="#fcecfa" stroke="#c0c0c0" stroke-width="0.6"/><text class="lg" x="315.3" y="351.7">No fertilizer</text>
<rect x="438.9" y="287" width="85.8" height="2.4" fill="#000"/><rect x="444.26" y="287.45" width="5.36" height="1.5" fill="#fff"/><rect x="454.99" y="287.45" width="5.36" height="1.5" fill="#fff"/><rect x="481.8" y="287.45" width="21.45" height="1.5" fill="#fff"/><text class="sb" x="438.9" y="285.4" text-anchor="middle">0</text><text class="sb" x="449.62" y="285.4" text-anchor="middle">10</text><text class="sb" x="460.35" y="285.4" text-anchor="middle">20</text><text class="sb" x="481.8" y="285.4" text-anchor="middle">40</text><text class="sb" x="503.25" y="285.4" text-anchor="middle">60</text><text class="sb" x="524.7" y="285.4" text-anchor="middle">80</text><text class="sb" x="526" y="289.6">Meters</text>
</svg>
</body></html>
